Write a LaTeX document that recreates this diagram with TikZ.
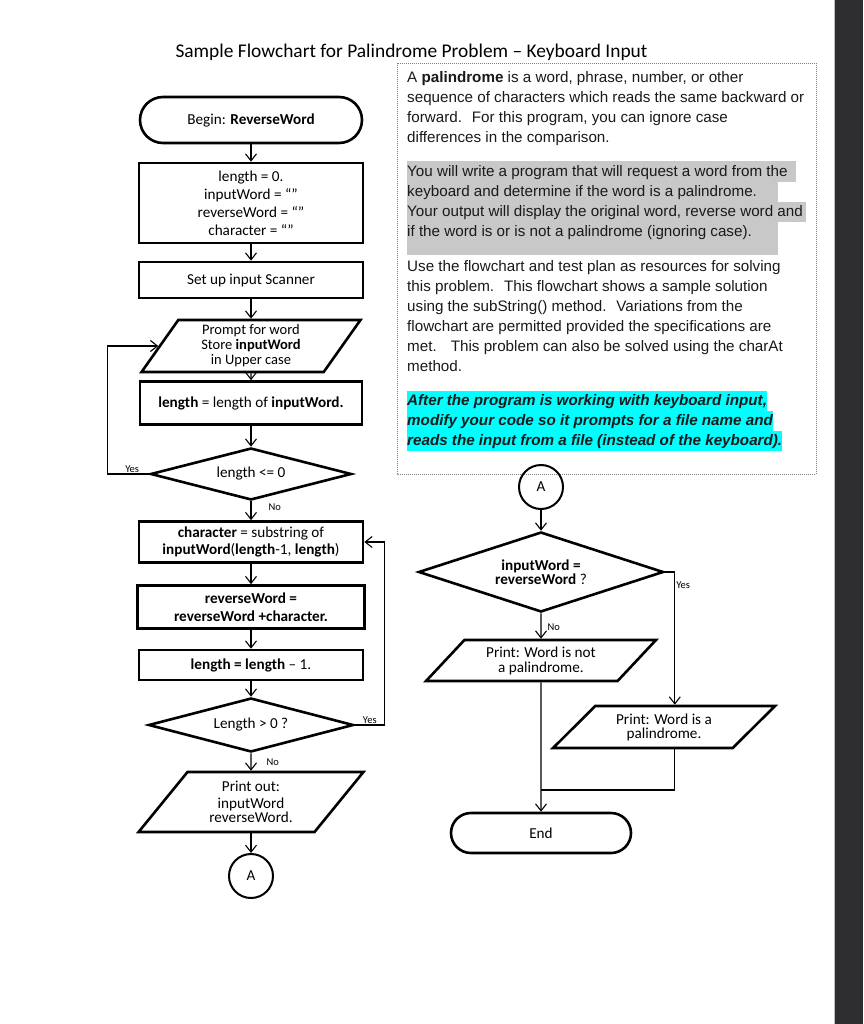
\documentclass[tikz,border=0pt]{standalone}
\usepackage{fontspec}
\setmainfont{Carlito}
\newfontfamily\arialfont{Liberation Sans}
\usetikzlibrary{shapes.geometric, arrows.meta, positioning}
\definecolor{hlGray}{HTML}{C8C8C8}
\definecolor{hlCyan}{HTML}{00FFFF}
\definecolor{barDark}{HTML}{2E2E30}
\definecolor{barEdge}{HTML}{BDBDBD}
\definecolor{frameGray}{HTML}{808080}
\definecolor{textDark}{HTML}{1A1A1A}

\begin{document}
\begin{tikzpicture}[
    x=1pt, y=-1pt,
    every node/.style={font=\fontsize{15.2}{17.5}\selectfont},
    process/.style={draw, line width=2.6pt, rectangle, align=center, inner sep=2pt},
    terminal/.style={draw, line width=2.6pt, rectangle, rounded corners=20pt, align=center},
    io/.style={draw, line width=2.6pt, trapezium, trapezium stretches=true, align=center, inner sep=1pt},
    decision/.style={draw, line width=2.6pt, diamond, align=center, inner sep=0pt},
    connector/.style={draw, line width=2pt, circle, minimum size=44pt, inner sep=0pt},
    flow/.style={line width=1.1pt, -{Straight Barb[length=7pt, width=11pt]}},
    link/.style={line width=1.1pt},
    lbl/.style={font=\fontsize{10.5}{12}\selectfont, inner sep=1pt},
    para/.style={anchor=west, font=\arialfont\fontsize{15.2}{20}\selectfont, text=textDark, inner xsep=0pt, inner ysep=0pt, text height=14.5pt, text depth=5.5pt},
]
    \useasboundingbox (0,0) rectangle (863,1024);
    \fill[white] (0,0) rectangle (863,1024);

    % Side bar
    \fill[barDark] (835,0) rectangle (863,1024);
    \draw[barEdge, line width=1pt] (834.5,0) -- (834.5,1024);

    % Title
    \node[font=\fontsize{19.4}{22}\selectfont] (title) at (411.5, 52) {Sample Flowchart for Palindrome Problem – Keyboard Input};

    % Text panel
    \draw[frameGray, line width=0.8pt, dash pattern=on 1pt off 1pt] (397,63) rectangle (816,474);
    \fill[hlGray] (407,161) rectangle (796,182);
    \fill[hlGray] (407,182) rectangle (778,202);
    \fill[hlGray] (407,202) rectangle (806,222);
    \fill[hlGray] (407,222) rectangle (778,255);
    \foreach \txt [count=\i from 0] in {
        {A \textbf{palindrome} is a word, phrase, number, or other},
        {sequence of characters which reads the same backward or},
        {forward.~ For this program, you can ignore case},
        {differences in the comparison.}}
        \node[para] (intro\i) at (407, 78+20*\i) {\txt};
    \foreach \txt [count=\i from 0] in {
        {You will write a program that will request a word from the},
        {keyboard and determine if the word is a palindrome.},
        {Your output will display the original word, reverse word and},
        {if the word is or is not a palindrome (ignoring case).}}
        \node[para] (task\i) at (407, 172+20*\i) {\txt};
    \foreach \txt [count=\i from 0] in {
        {Use the flowchart and test plan as resources for solving},
        {this problem.~ This flowchart shows a sample solution},
        {using the subString() method.~ Variations from the},
        {flowchart are permitted provided the specifications are},
        {met.~~ This problem can also be solved using the charAt},
        {method.}}
        \node[para] (hint\i) at (407, 267+20*\i) {\txt};
    \foreach \txt [count=\i from 0] in {
        {After the program is working with keyboard input,},
        {modify your code so it prompts for a file name and},
        {reads the input from a file (instead of the keyboard).}}
        \node[para, fill=hlCyan, font=\arialfont\bfseries\itshape\fontsize{15.2}{20}\selectfont] (extra\i) at (407, 401+20*\i) {\txt};

    % Left column
    \node[terminal, rounded corners=23pt, minimum width=222pt, minimum height=46pt] (begin) at (251,120) {Begin: \textbf{ReverseWord}};
    \node[process, minimum width=224pt, minimum height=80pt, font=\fontsize{15.2}{18}\selectfont] (init) at (251,203) {length = 0.\\inputWord = “”\\reverseWord = “”\\character = “”};
    \node[process, minimum width=224pt, minimum height=36pt] (scanner) at (251,280) {Set up input Scanner};
    \node[io, trapezium left angle=60, trapezium right angle=120, minimum width=219pt, minimum height=52pt, font=\fontsize{14.5}{15}\selectfont] (prompt) at (251,346) {Prompt for word\\Store \textbf{inputWord}\\in Upper case};
    \node[process, minimum width=222pt, minimum height=43pt] (lenbox) at (251,403) {\textbf{length} = length of \textbf{inputWord.}};
    \node[decision, aspect=3.9, minimum width=201pt, minimum height=52pt] (empty) at (251,474) {length <= 0};
    \node[process, minimum width=224pt, minimum height=41pt] (substr) at (251,542) {\textbf{character} = substring of\\\textbf{inputWord}(\textbf{length}-1, \textbf{length})};
    \node[process, minimum width=227pt, minimum height=43pt] (revword) at (251,607) {\textbf{reverseWord =}\\\textbf{reverseWord +character.}};
    \node[process, minimum width=224pt, minimum height=30pt] (shrink) at (251,665) {\textbf{length = length} – 1.};
    \node[decision, aspect=3.8, minimum width=205pt, minimum height=54pt] (more) at (251,725) {Length > 0 ?};
    \node[io, trapezium left angle=53, trapezium right angle=127, minimum width=225pt, minimum height=60pt, font=\fontsize{15.2}{14}\selectfont] (printout) at (251,802) {Print out:\\[3pt]inputWord\\reverseWord.};
    \node[connector] (outA) at (251,876) {A};

    % Right column
    \node[connector] (inA) at (541,487) {A};
    \node[decision, aspect=3.06, minimum width=245pt, minimum height=80pt, font=\fontsize{15.2}{14}\selectfont] (same) at (541,572) {\textbf{inputWord =}\\\textbf{reverseWord} ?};
    \node[io, trapezium left angle=47, trapezium right angle=133, minimum width=230pt, minimum height=41pt, font=\fontsize{15.2}{15}\selectfont] (notpal) at (541,660.5) {Print: Word is not\\a palindrome.};
    \node[io, trapezium left angle=44, trapezium right angle=136, minimum width=222pt, minimum height=42pt, font=\fontsize{15.2}{14}\selectfont] (ispal) at (664,727) {Print: Word is a\\palindrome.};
    \node[terminal, minimum width=180pt, minimum height=40pt] (finish) at (541,833) {End};
    \coordinate (merge) at (541,790);

    % Left connectors
    \draw[flow] (begin) -- (init);
    \draw[flow] (init) -- (scanner);
    \draw[flow] (scanner) -- (prompt);
    \draw[flow] (prompt) -- (lenbox);
    \draw[flow] (lenbox) -- (empty);
    \draw[flow] (empty.west) -- node[lbl, above, xshift=4pt] {Yes} ++(-42,0) |- (prompt.west);
    \draw[flow] (empty.south) -- node[lbl, right=16pt, pos=0.3] {No} (substr.north);
    \draw[flow] (substr) -- (revword);
    \draw[flow] (revword) -- (shrink);
    \draw[flow] (shrink) -- (more);
    \draw[flow] (more.east) -- node[lbl, above] {Yes} ++(30,0) |- (substr.east);
    \draw[flow] (more.south) -- node[lbl, right=14pt] {No} (printout.north);
    \draw[flow] (printout) -- (outA);

    % Right connectors
    \draw[flow] (inA) -- (same);
    \draw[flow] (same.south) -- node[lbl, right=5pt, pos=0.55] {No} (notpal.north);
    \draw[flow] (same.east) -- ++(10,0) coordinate (yesturn) -- node[lbl, right, pos=0.1] {Yes} (yesturn |- ispal.north);
    \draw[link] (yesturn |- ispal.south) |- (merge);
    \draw[flow] (notpal.south) -- (finish.north);
\end{tikzpicture}
\end{document}
